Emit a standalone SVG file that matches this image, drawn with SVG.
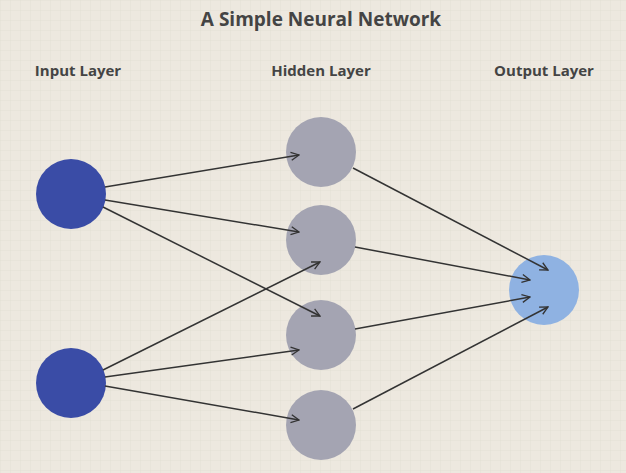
<svg xmlns="http://www.w3.org/2000/svg" width="626" height="473" viewBox="0 0 626 473">
<defs>
<pattern id="g" width="10" height="10" patternUnits="userSpaceOnUse"><path d="M10 0H0V10" fill="none" stroke="#ddd8cc" stroke-width="0.6"/></pattern>
<marker id="a" markerWidth="10" markerHeight="10" refX="9" refY="5" orient="auto" markerUnits="userSpaceOnUse"><path d="M1 1L9 5L1 9" fill="none" stroke="#333" stroke-width="1.3"/></marker>
</defs>
<style>
text{font-family:"Open Sans","Liberation Sans",sans-serif;font-weight:bold;fill:#444;text-anchor:middle}
.in{fill:#3a4ca6}.hid{fill:#a4a4b2}.out{fill:#8fb2e2}
.c line{stroke:#333;stroke-width:1.5;marker-end:url(#a)}
</style>
<rect width="626" height="473" fill="#ede8df"/>
<rect width="626" height="473" fill="url(#g)"/>
<text x="321" y="26" font-size="19">A Simple Neural Network</text>
<text x="78" y="76" font-size="15">Input Layer</text>
<text x="321" y="76" font-size="15">Hidden Layer</text>
<text x="544" y="76" font-size="15">Output Layer</text>
<g id="i1"><circle class="in" cx="71" cy="194" r="35"/></g>
<g id="i2"><circle class="in" cx="71" cy="383" r="35"/></g>
<g id="h1"><circle class="hid" cx="321" cy="152" r="35"/></g>
<g id="h2"><circle class="hid" cx="321" cy="240" r="35"/></g>
<g id="h3"><circle class="hid" cx="321" cy="335" r="35"/></g>
<g id="h4"><circle class="hid" cx="321" cy="425" r="35"/></g>
<g id="o1"><circle class="out" cx="544" cy="290" r="35"/></g>
<g class="c">
<line x1="105" y1="187" x2="299" y2="155"/>
<line x1="105" y1="200" x2="299" y2="232"/>
<line x1="103" y1="207" x2="320" y2="316"/>
<line x1="103" y1="370" x2="320" y2="262"/>
<line x1="105" y1="377" x2="299" y2="350"/>
<line x1="105" y1="386" x2="299" y2="420"/>
<line x1="353" y1="168" x2="548" y2="270"/>
<line x1="355" y1="247" x2="530" y2="280"/>
<line x1="355" y1="329" x2="530" y2="297"/>
<line x1="353" y1="409" x2="548" y2="307"/>
</g>
</svg>
